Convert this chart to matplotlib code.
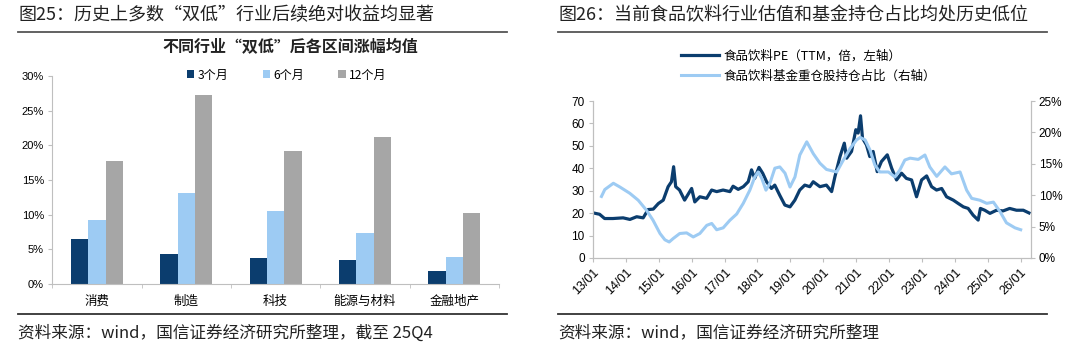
import matplotlib
matplotlib.use('Agg')
import matplotlib.pyplot as plt
import matplotlib.dates as mdates
from matplotlib.lines import Line2D
from matplotlib.ticker import FuncFormatter, FixedLocator
import numpy as np
import pandas as pd

plt.rcParams['font.family'] = ['Noto Sans CJK SC', 'DejaVu Sans']

# left chart: average return after "double low" by industry (%)
industries = ['消费', '制造', '科技', '能源与材料', '金融地产']
periods = ['3个月', '6个月', '12个月']
ret_3m = [6.5, 4.3, 3.7, 3.4, 1.9]
ret_6m = [9.3, 13.1, 10.6, 7.35, 3.9]
ret_12m = [17.8, 27.2, 19.2, 21.2, 10.2]

# right chart: food & beverage PE (TTM) and fund holding ratio (%)
pe_dates = ['2013-01-04', '2013-03-15', '2013-05-10', '2013-08-10', '2013-12-01',
            '2014-02-15', '2014-05-01', '2014-07-12', '2014-09-05', '2014-11-01',
            '2014-12-28', '2015-02-20', '2015-04-15', '2015-05-22', '2015-06-15',
            '2015-07-08', '2015-08-20', '2015-10-15', '2016-01-01', '2016-02-05',
            '2016-04-01', '2016-06-15', '2016-08-10', '2016-10-05', '2016-12-15',
            '2017-03-01', '2017-04-05', '2017-06-01', '2017-07-28', '2017-09-20',
            '2017-10-27', '2017-12-01', '2018-01-18', '2018-02-28', '2018-04-12',
            '2018-06-05', '2018-07-12', '2018-09-05', '2018-11-01', '2018-12-28',
            '2019-02-20', '2019-04-15', '2019-06-10', '2019-08-05', '2019-09-12',
            '2019-11-25', '2020-02-05', '2020-04-03', '2020-05-10', '2020-07-05',
            '2020-08-22', '2020-09-17', '2020-11-10', '2020-12-28', '2021-01-22',
            '2021-02-18', '2021-03-12', '2021-04-25', '2021-06-01', '2021-07-08',
            '2021-08-22', '2021-10-08', '2021-12-12', '2022-01-30', '2022-03-25',
            '2022-05-20', '2022-07-12', '2022-09-08', '2022-11-02', '2022-12-28',
            '2023-02-22', '2023-04-18', '2023-06-12', '2023-08-08', '2023-10-01',
            '2023-12-15', '2024-02-08', '2024-04-05', '2024-05-28', '2024-07-22',
            '2024-09-16', '2024-10-11', '2024-11-28', '2025-01-25', '2025-04-08',
            '2025-06-20', '2025-09-01', '2025-11-15', '2026-01-30', '2026-04-03']
pe_values = [20.1, 19.5, 17.6, 17.6, 17.9, 17.2, 18.4, 17.9, 21.6, 21.8,
             24.3, 25.8, 31.8, 34.0, 40.7, 31.8, 30.3, 25.8, 31.0, 25.0,
             27.3, 26.6, 30.3, 29.6, 30.3, 29.6, 32.0, 30.6, 31.8, 34.0,
             39.3, 35.5, 40.4, 37.8, 34.0, 31.0, 32.5, 28.0, 23.6, 22.8,
             25.8, 30.3, 32.5, 31.8, 34.0, 31.8, 32.5, 29.6, 36.3, 45.2,
             51.2, 44.5, 47.5, 57.2, 55.7, 63.4, 53.4, 50.4, 45.2, 47.5,
             38.5, 43.0, 46.0, 40.0, 34.8, 37.8, 35.5, 34.8, 27.3, 34.8,
             36.6, 31.8, 30.3, 31.0, 27.3, 25.8, 24.3, 22.8, 22.1, 19.1,
             16.9, 22.1, 21.3, 19.9, 21.3, 21.0, 22.1, 21.3, 21.3, 20.1]

hold_dates = ['2013-04-05', '2013-05-12', '2013-08-15', '2013-10-27', '2014-02-14',
              '2014-05-18', '2014-08-18', '2014-10-30', '2015-01-15', '2015-03-10',
              '2015-04-27', '2015-06-10', '2015-08-22', '2015-11-06', '2016-01-19',
              '2016-04-01', '2016-06-17', '2016-08-11', '2016-10-05', '2016-12-16',
              '2017-02-28', '2017-05-15', '2017-07-27', '2017-10-08', '2017-12-02',
              '2018-01-08', '2018-02-17', '2018-04-05', '2018-05-19', '2018-07-13',
              '2018-09-06', '2018-11-03', '2018-12-28', '2019-02-21', '2019-04-16',
              '2019-07-02', '2019-09-13', '2019-11-25', '2020-02-06', '2020-05-30',
              '2020-08-11', '2020-10-23', '2021-01-05', '2021-02-14', '2021-04-10',
              '2021-06-03', '2021-07-27', '2021-09-20', '2021-12-24', '2022-03-07',
              '2022-04-30', '2022-06-25', '2022-08-22', '2022-11-21', '2023-02-03',
              '2023-03-29', '2023-06-14', '2023-09-13', '2023-11-25', '2024-02-28',
              '2024-05-11', '2024-07-06', '2024-10-05', '2024-12-20', '2025-03-04',
              '2025-05-16', '2025-07-27', '2025-10-30', '2026-01-01']
hold_values = [9.8, 10.9, 11.9, 11.3, 10.3, 9.2, 7.6, 6.0, 3.9, 2.9,
               2.55, 3.1, 3.9, 4.0, 3.35, 3.9, 5.2, 5.5, 4.5, 4.8,
               6.0, 7.0, 8.7, 10.8, 12.9, 13.7, 12.7, 10.8, 11.9, 14.3,
               14.5, 13.5, 11.3, 12.9, 16.4, 18.5, 16.6, 15.1, 14.1, 13.7,
               15.6, 17.4, 18.8, 19.2, 18.8, 17.2, 14.8, 13.7, 13.7, 12.9,
               14.0, 15.6, 15.9, 15.7, 16.4, 14.5, 13.0, 14.5, 13.4, 13.7,
               10.8, 9.5, 9.2, 8.7, 8.9, 7.4, 5.6, 4.8, 4.5]

navy = '#0b3d6e'
light = '#9dcbf3'
grey = '#a6a6a6'
spine_c = '#bfbfbf'
W, H = 1080, 357

fig = plt.figure(figsize=(10.8, 3.57), dpi=100)


def fx(px):
    return px / W


def fy(py):
    return 1 - py / H


# headers, separators, sources
fig.text(fx(18), fy(15), '图25：历史上多数“双低”行业后续绝对收益均显著', fontsize=13,
         fontweight='medium', va='center', color='#222222')
fig.text(fx(558), fy(15), '图26：当前食品饮料行业估值和基金持仓占比均处历史低位', fontsize=13,
         fontweight='medium', va='center', color='#222222')
for x0, x1 in [(18, 507), (558, 1047)]:
    fig.add_artist(Line2D([fx(x0), fx(x1)], [fy(32), fy(32)], color='#555555', lw=1.3))
    fig.add_artist(Line2D([fx(x0), fx(x1)], [fy(314), fy(314)], color='#333333', lw=1.3))
fig.text(fx(18), fy(333), '资料来源：wind，国信证券经济研究所整理，截至 25Q4', fontsize=12,
         va='center', color='#222222')
fig.text(fx(558), fy(333), '资料来源：wind，国信证券经济研究所整理', fontsize=12,
         va='center', color='#222222')

# ---- left: grouped bars
ax1 = fig.add_axes([fx(52.3), fy(284), fx(499 - 52.3), (284 - 76) / H])
x = np.arange(len(industries))
bw = 0.195
ax1.bar(x - bw, ret_3m, bw, color=navy, label=periods[0])
ax1.bar(x, ret_6m, bw, color=light, label=periods[1])
ax1.bar(x + bw, ret_12m, bw, color=grey, label=periods[2])
ax1.set_xlim(-0.5, len(industries) - 0.5)
ax1.set_ylim(0, 30)
ax1.set_yticks(range(0, 31, 5))
ax1.yaxis.set_major_formatter(FuncFormatter(lambda v, p: f'{int(v)}%'))
ax1.set_xticks(x)
ax1.set_xticklabels(industries, fontsize=9)
ax1.xaxis.set_minor_locator(FixedLocator(np.arange(-0.5, len(industries), 1.0)))
ax1.tick_params(axis='x', which='major', length=0, pad=8)
ax1.tick_params(axis='x', which='minor', length=3, color=spine_c)
ax1.tick_params(axis='y', length=3, color=spine_c, pad=3, labelsize=8,
                labelfontfamily='Liberation Sans')
for s in ['top', 'right']:
    ax1.spines[s].set_visible(False)
for s in ['left', 'bottom']:
    ax1.spines[s].set_color(spine_c)
fig.text(fx(290), fy(47), '不同行业“双低”后各区间涨幅均值', fontsize=11.5,
         fontweight='bold', ha='center', va='center', color='#222222')
fig.legend(*ax1.get_legend_handles_labels(), loc='center', ncol=3,
           bbox_to_anchor=(fx(287), fy(75)), frameon=False, fontsize=8.7,
           handlelength=0.6, handleheight=0.6, handletextpad=0.3, columnspacing=2.8)

# ---- right: PE vs fund holding
pe_d = pd.to_datetime(pe_dates)
hold_d = pd.to_datetime(hold_dates)
ax2 = fig.add_axes([fx(593), fy(258), fx(1030.5 - 593), (258 - 101) / H])
l1, = ax2.plot(pe_d, pe_values, color=navy, lw=2.3)
ax2.set_ylim(0, 70)
ax2.set_yticks(range(0, 71, 10))
ax2.set_xlim(pd.Timestamp('2013-01-01'), pd.Timestamp('2026-04-20'))
ax2.xaxis.set_major_locator(mdates.YearLocator())
ax2.xaxis.set_major_formatter(mdates.DateFormatter('%y/%m'))
ax3 = ax2.twinx()
l2, = ax3.plot(hold_d, hold_values, color=light, lw=2.2)
ax3.set_ylim(0, 25)
ax3.set_yticks(range(0, 26, 5))
ax3.yaxis.set_major_formatter(FuncFormatter(lambda v, p: f'{int(v)}%'))
for a in (ax2, ax3):
    a.spines['top'].set_visible(False)
    for s in ['left', 'bottom', 'right']:
        a.spines[s].set_color(spine_c)
    a.tick_params(length=3, color=spine_c, labelsize=8.5, pad=3,
                  labelfontfamily='Liberation Sans')
ax2.tick_params(axis='x', labelsize=9)
for lab in ax2.get_xticklabels():
    lab.set_rotation(45)
    lab.set_ha('right')
    lab.set_va('top')
    lab.set_rotation_mode('anchor')
fig.legend([l1, l2], ['食品饮料PE（TTM，倍，左轴）', '食品饮料基金重仓股持仓占比（右轴）'],
           loc='upper left', bbox_to_anchor=(fx(670), fy(38)), frameon=False, fontsize=9,
           handlelength=3.0, handletextpad=0.4, labelspacing=0.6)

fig.savefig('out.png', dpi=100)
